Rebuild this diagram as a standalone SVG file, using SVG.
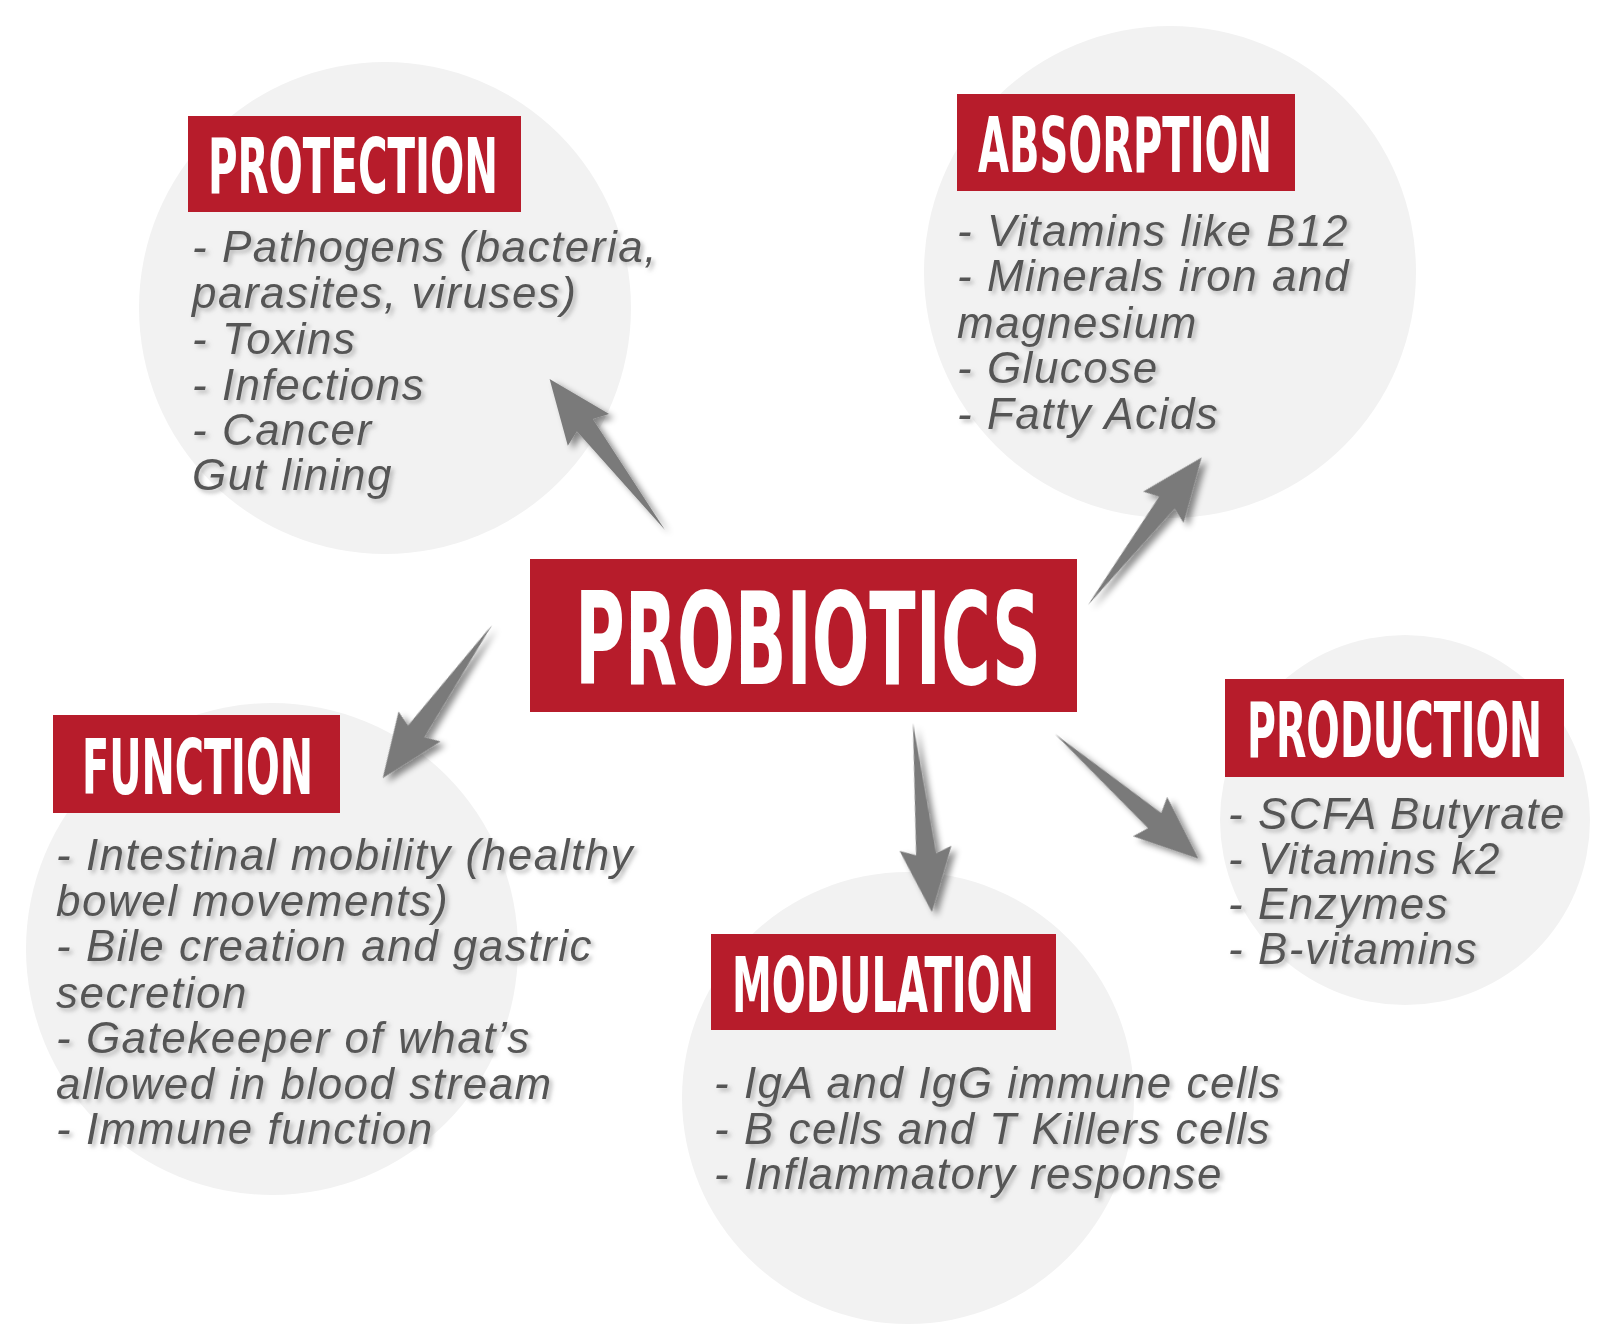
<svg xmlns="http://www.w3.org/2000/svg" width="1600" height="1334" viewBox="0 0 1600 1334">
<defs>
<filter id="ash" x="-30%" y="-30%" width="160%" height="160%"><feDropShadow dx="5" dy="4" stdDeviation="3" flood-color="#000" flood-opacity="0.45"/></filter>
<filter id="tsh" x="-10%" y="-30%" width="120%" height="160%"><feDropShadow dx="3" dy="3" stdDeviation="2" flood-color="#aaa" flood-opacity="0.8"/></filter>
<path id="arr" d="M0,0 L132,-10 L126,-26 L190,0 L126,26 L132,10 Z" fill="#7a7a7a"/>
<style>
.c{fill:#f2f2f2}
.box{fill:#b71c2b}
.h{font-family:"DejaVu Sans Condensed","DejaVu Sans",sans-serif;font-weight:bold;fill:#fff;font-size:76px}
.big{font-size:128px}
.t{font-family:"Liberation Sans",Arial,sans-serif;font-style:italic;fill:#555;font-size:44px;letter-spacing:1.5px;filter:url(#tsh)}
</style>
</defs>
<rect width="1600" height="1334" fill="#fff"/>
<g id="circles">
<circle class="c" cx="385" cy="308" r="246"/>
<circle class="c" cx="1170" cy="272" r="246"/>
<circle class="c" cx="1405" cy="820" r="185"/>
<circle class="c" cx="908" cy="1098" r="226"/>
<circle class="c" cx="272" cy="949" r="246"/>
</g>
<g id="connectors" filter="url(#ash)">
<use href="#arr" transform="translate(665,530) rotate(-127.4)"/>
<use href="#arr" transform="translate(1088,605) rotate(-52.4) scale(0.98)"/>
<use href="#arr" transform="translate(492,625) rotate(125.5) scale(0.99)"/>
<use href="#arr" transform="translate(913,723) rotate(84.3)"/>
<use href="#arr" transform="translate(1055,734) rotate(41)"/>
</g>
<g id="probiotics">
<rect class="box" x="530" y="559" width="547" height="153"/>
<text class="h big" x="575" y="684" textLength="466" lengthAdjust="spacingAndGlyphs">PROBIOTICS</text>
</g>
<g id="protection">
<rect class="box" x="188" y="116" width="333" height="96"/>
<text class="h" x="208" y="193" textLength="290" lengthAdjust="spacingAndGlyphs">PROTECTION</text>
<text class="t" x="192" y="262">- Pathogens (bacteria,</text>
<text class="t" x="192" y="308">parasites, viruses)</text>
<text class="t" x="192" y="354">- Toxins</text>
<text class="t" x="192" y="400">- Infections</text>
<text class="t" x="192" y="445">- Cancer</text>
<text class="t" x="192" y="490">Gut lining</text>
</g>
<g id="absorption">
<rect class="box" x="957" y="94" width="338" height="97"/>
<text class="h" x="978" y="172" textLength="294" lengthAdjust="spacingAndGlyphs">ABSORPTION</text>
<text class="t" x="957" y="246">- Vitamins like B12</text>
<text class="t" x="957" y="291">- Minerals iron and</text>
<text class="t" x="957" y="338">magnesium</text>
<text class="t" x="957" y="383">- Glucose</text>
<text class="t" x="957" y="429">- Fatty Acids</text>
</g>
<g id="production">
<rect class="box" x="1225" y="679" width="339" height="98"/>
<text class="h" x="1247" y="757" textLength="295" lengthAdjust="spacingAndGlyphs">PRODUCTION</text>
<text class="t" x="1228" y="829">- SCFA Butyrate</text>
<text class="t" x="1228" y="874">- Vitamins k2</text>
<text class="t" x="1228" y="919">- Enzymes</text>
<text class="t" x="1228" y="964">- B-vitamins</text>
</g>
<g id="function">
<rect class="box" x="53" y="715" width="287" height="98"/>
<text class="h" x="82" y="794" textLength="231" lengthAdjust="spacingAndGlyphs">FUNCTION</text>
<text class="t" x="56" y="870">- Intestinal mobility (healthy</text>
<text class="t" x="56" y="916">bowel movements)</text>
<text class="t" x="56" y="961">- Bile creation and gastric</text>
<text class="t" x="56" y="1008">secretion</text>
<text class="t" x="56" y="1053">- Gatekeeper of what’s</text>
<text class="t" x="56" y="1099">allowed in blood stream</text>
<text class="t" x="56" y="1144">- Immune function</text>
</g>
<g id="modulation">
<rect class="box" x="711" y="934" width="345" height="96"/>
<text class="h" x="732" y="1012" textLength="302" lengthAdjust="spacingAndGlyphs">MODULATION</text>
<text class="t" x="714" y="1098">- IgA and IgG immune cells</text>
<text class="t" x="714" y="1144">- B cells and T Killers cells</text>
<text class="t" x="714" y="1189">- Inflammatory response</text>
</g>
</svg>
